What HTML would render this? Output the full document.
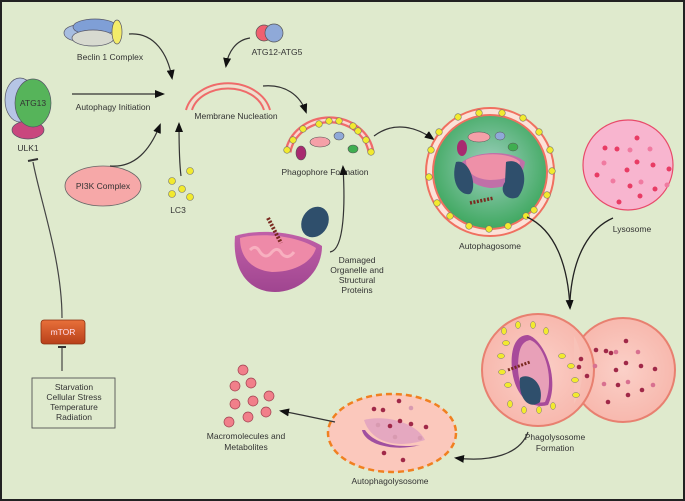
<!DOCTYPE html>
<html><head><meta charset="utf-8"><style>
html,body{margin:0;padding:0;background:#dfeacd}
svg{display:block}
text{font-family:"Liberation Sans",sans-serif;fill:#333;font-size:8.5px}
</style></head><body>
<svg width="685" height="501" viewBox="0 0 685 501" xmlns="http://www.w3.org/2000/svg">
<defs>
<marker id="ar" markerWidth="10" markerHeight="8" refX="8" refY="4" orient="auto" markerUnits="userSpaceOnUse"><path d="M0,0 L10,4 L0,8 z" fill="#111"/></marker>
<radialGradient id="gg" cx="50%" cy="45%" r="55%"><stop offset="0" stop-color="#9fd0c0"/><stop offset="1" stop-color="#3fa860"/></radialGradient>
<radialGradient id="pg" cx="50%" cy="50%" r="55%"><stop offset="0" stop-color="#fbd0c8"/><stop offset="1" stop-color="#f7b6ab"/></radialGradient>
<linearGradient id="mt" x1="0" y1="0" x2="0" y2="1"><stop offset="0" stop-color="#e8703a"/><stop offset="1" stop-color="#b8401a"/></linearGradient>
<linearGradient id="mg" x1="0" y1="0" x2="0" y2="1"><stop offset="0" stop-color="#c060a8"/><stop offset="1" stop-color="#a04590"/></linearGradient>
</defs>
<rect x="1" y="1" width="683" height="499" fill="#dfeacd" stroke="#222" stroke-width="2"/>

<!-- Beclin -->
<ellipse cx="78" cy="33" rx="14" ry="8" fill="#a7bde0" stroke="#556" stroke-width=".7"/>
<ellipse cx="95" cy="27" rx="22" ry="8" fill="#7f9fd6" stroke="#556" stroke-width=".7"/>
<ellipse cx="93" cy="38" rx="21" ry="8" fill="#d8dad0" stroke="#556" stroke-width=".7"/>
<ellipse cx="117" cy="32" rx="5" ry="12" fill="#f3ec6a" stroke="#556" stroke-width=".7"/>
<text x="110" y="60" text-anchor="middle">Beclin 1 Complex</text>
<path d="M129,34 C155,32 168,55 172,78" fill="none" stroke="#333" stroke-width="1.2" marker-end="url(#ar)"/>

<!-- ATG12-ATG5 -->
<circle cx="264" cy="33" r="8" fill="#f06070" stroke="#555" stroke-width=".7"/>
<circle cx="274" cy="33" r="9" fill="#8fa9d8" stroke="#555" stroke-width=".7"/>
<text x="277" y="55" text-anchor="middle">ATG12-ATG5</text>
<path d="M250,38 C236,40 228,52 226,66" fill="none" stroke="#333" stroke-width="1.2" marker-end="url(#ar)"/>

<!-- ULK1 -->
<ellipse cx="20" cy="100" rx="15" ry="22" fill="#b6c5e6" stroke="#556" stroke-width=".7"/>
<ellipse cx="28" cy="130" rx="16" ry="9" fill="#c9477e" stroke="#556" stroke-width=".7"/>
<ellipse cx="33" cy="103" rx="18" ry="24" fill="#56b45a" stroke="#556" stroke-width=".7"/>
<text x="33" y="106" text-anchor="middle" font-size="9">ATG13</text>
<text x="28" y="151" text-anchor="middle">ULK1</text>
<line x1="72" y1="94" x2="163" y2="94" stroke="#333" stroke-width="1.2" marker-end="url(#ar)"/>
<text x="113" y="110" text-anchor="middle">Autophagy Initiation</text>

<!-- Membrane -->
<path d="M186,110 A43,34 0 0 1 270,110" fill="none" stroke="#f06a6a" stroke-width="2"/>
<path d="M189,110 A40,31 0 0 1 267,110" fill="none" stroke="#fbd7d0" stroke-width="1.5"/>
<path d="M192,110 A37,28 0 0 1 264,110" fill="none" stroke="#f06a6a" stroke-width="2"/>
<text x="236" y="119" text-anchor="middle">Membrane Nucleation</text>
<path d="M263,86 C285,84 300,95 306,112" fill="none" stroke="#333" stroke-width="1.2" marker-end="url(#ar)"/>

<!-- PI3K -->
<ellipse cx="103" cy="186" rx="38" ry="20" fill="#f6a8a8" stroke="#666" stroke-width=".8"/>
<text x="103" y="189" text-anchor="middle">PI3K Complex</text>
<path d="M110,166 C135,168 150,150 160,125" fill="none" stroke="#333" stroke-width="1.2" marker-end="url(#ar)"/>

<!-- LC3 -->
<g fill="#f2ea2e" stroke="#776" stroke-width=".6">
<circle cx="190" cy="171" r="3.5"/><circle cx="172" cy="181" r="3.5"/><circle cx="182" cy="189" r="3.5"/><circle cx="172" cy="194" r="3.5"/><circle cx="190" cy="197" r="3.5"/></g>
<text x="178" y="213" text-anchor="middle">LC3</text>
<path d="M181,176 C179,160 179,140 179,124" fill="none" stroke="#333" stroke-width="1.2" marker-end="url(#ar)"/>

<!-- Phagophore -->
<path d="M288,152 A42,38 0 0 1 371,152" fill="none" stroke="#f06a6a" stroke-width="7"/>
<path d="M288,152 A42,38 0 0 1 371,152" fill="none" stroke="#fbd7d0" stroke-width="2.5"/>
<g fill="#f2ea2e" stroke="#776" stroke-width=".6">
<circle cx="287" cy="150" r="3.3"/><circle cx="293" cy="140" r="3.3"/><circle cx="303" cy="129" r="3.3"/><circle cx="319" cy="124" r="3.3"/><circle cx="329" cy="121" r="3.3"/><circle cx="339" cy="121" r="3.3"/><circle cx="353" cy="126" r="3.3"/><circle cx="358" cy="131" r="3.3"/><circle cx="366" cy="140" r="3.3"/><circle cx="371" cy="152" r="3.3"/></g>
<ellipse cx="301" cy="153" rx="5" ry="7" fill="#a82a70" stroke="#555" stroke-width=".6"/>
<ellipse cx="320" cy="142" rx="10" ry="5" fill="#f5a0a8" stroke="#555" stroke-width=".6"/>
<ellipse cx="339" cy="136" rx="5" ry="4" fill="#8fa9d8" stroke="#555" stroke-width=".6"/>
<ellipse cx="353" cy="149" rx="5" ry="4" fill="#3fae50" stroke="#555" stroke-width=".6"/>
<text x="325" y="175" text-anchor="middle">Phagophore Formation</text>
<path d="M374,136 C395,120 418,128 433,139" fill="none" stroke="#333" stroke-width="1.2" marker-end="url(#ar)"/>

<!-- Damaged organelle -->
<path d="M235,236 C260,228 300,232 322,246 C322,272 300,292 275,292 C250,292 232,272 235,236 z" fill="url(#mg)"/>
<path d="M240,238 C262,232 298,236 316,248 C312,262 295,272 272,272 C252,270 240,258 240,238 z" fill="#ee8aa8"/>
<path d="M250,250 q6,-6 10,2 q6,8 12,0 q6,-6 10,2 q6,6 12,-2" fill="none" stroke="#f8b0c0" stroke-width="3"/>
<ellipse cx="315" cy="222" rx="13" ry="16" transform="rotate(30 315 222)" fill="#2f4f6c"/>
<path d="M268,218 L281,243" stroke="#7a2a20" stroke-width="4" stroke-dasharray="2 1.5"/>
<text text-anchor="middle" font-size="8.5"><tspan x="357" y="263">Damaged</tspan><tspan x="357" y="273">Organelle and</tspan><tspan x="357" y="283">Structural</tspan><tspan x="357" y="293">Proteins</tspan></text>
<path d="M330,252 C345,250 345,200 343,167" fill="none" stroke="#333" stroke-width="1.2" marker-end="url(#ar)"/>

<!-- Autophagosome -->
<circle cx="490" cy="172" r="64" fill="#fbe2d8" stroke="#f07060" stroke-width="2"/>
<circle cx="490" cy="172" r="57" fill="url(#gg)" stroke="#f07060" stroke-width="2"/>
<path d="M462,162 C478,150 512,150 525,162 C522,182 505,188 490,188 C472,186 462,176 462,162 z" fill="#c070a8"/>
<path d="M466,160 C480,152 510,152 520,162 C518,176 505,180 490,180 C474,179 466,172 466,160 z" fill="#ee90a8"/>
<path d="M456,162 C470,158 478,188 470,194 C460,196 450,182 456,162 z" fill="#2f4f6c"/>
<path d="M506,162 C524,156 530,182 518,197 C508,202 498,192 505,182 z" fill="#2f4f6c"/>
<ellipse cx="462" cy="148" rx="5" ry="8" fill="#a82a70"/>
<ellipse cx="479" cy="137" rx="11" ry="5" fill="#f5a0a8" stroke="#555" stroke-width=".5"/>
<ellipse cx="500" cy="136" rx="5" ry="4" fill="#8fa9d8" stroke="#555" stroke-width=".5"/>
<ellipse cx="513" cy="147" rx="5" ry="4" fill="#3fae50" stroke="#555" stroke-width=".5"/>
<path d="M470,203 l24,-5" stroke="#7a2a20" stroke-width="3.5" stroke-dasharray="2 1.5"/>
<g fill="#f2ea2e" stroke="#776" stroke-width=".6">
<circle cx="458" cy="117" r="3.3"/><circle cx="479" cy="113" r="3.3"/><circle cx="502" cy="113" r="3.3"/><circle cx="523" cy="118" r="3.3"/><circle cx="539" cy="132" r="3.3"/><circle cx="550" cy="150" r="3.3"/><circle cx="552" cy="171" r="3.3"/><circle cx="547" cy="195" r="3.3"/><circle cx="534" cy="210" r="3.3"/><circle cx="526" cy="216" r="3.3"/><circle cx="508" cy="226" r="3.3"/><circle cx="489" cy="229" r="3.3"/><circle cx="469" cy="226" r="3.3"/><circle cx="450" cy="216" r="3.3"/><circle cx="437" cy="203" r="3.3"/><circle cx="429" cy="177" r="3.3"/><circle cx="431" cy="150" r="3.3"/><circle cx="439" cy="132" r="3.3"/></g>
<text x="490" y="249" text-anchor="middle">Autophagosome</text>

<!-- Lysosome -->
<circle cx="628" cy="165" r="45" fill="#f8b5cf" stroke="#e84a6a" stroke-width="1.2"/>
<g fill="#e83c64">
<circle cx="605" cy="148" r="2.5"/><circle cx="617" cy="149" r="2.5"/><circle cx="637" cy="138" r="2.5"/><circle cx="637" cy="162" r="2.5"/><circle cx="627" cy="170" r="2.5"/><circle cx="653" cy="165" r="2.5"/><circle cx="669" cy="169" r="2.5"/><circle cx="597" cy="175" r="2.5"/><circle cx="630" cy="186" r="2.5"/><circle cx="640" cy="196" r="2.5"/><circle cx="655" cy="189" r="2.5"/><circle cx="619" cy="202" r="2.5"/></g>
<g fill="#f07aa0"><circle cx="630" cy="150" r="2.5"/><circle cx="650" cy="149" r="2.5"/><circle cx="604" cy="163" r="2.5"/><circle cx="613" cy="181" r="2.5"/><circle cx="641" cy="182" r="2.5"/><circle cx="667" cy="185" r="2.5"/></g>
<text x="632" y="232" text-anchor="middle">Lysosome</text>

<!-- merging curves -->
<path d="M527,217 C555,230 568,265 570,308" fill="none" stroke="#222" stroke-width="1.3" marker-end="url(#ar)"/>
<path d="M613,218 C590,228 573,255 570,300" fill="none" stroke="#222" stroke-width="1.3"/>

<!-- Phagolysosome -->
<circle cx="623" cy="370" r="52" fill="url(#pg)" stroke="#e88070" stroke-width="2"/>
<circle cx="538" cy="370" r="56" fill="url(#pg)" stroke="#e88070" stroke-width="2"/>
<path d="M574,336 C585,355 585,385 574,404" fill="#f8c2b8"/>
<path d="M528,335 C545,340 560,380 548,405 C530,410 515,395 512,370 C510,350 515,335 528,335 z" fill="#a84a9a"/>
<path d="M530,340 C545,345 555,380 545,402 C533,405 520,395 518,370 C518,352 520,342 530,340 z" fill="#e8a0b8"/>
<path d="M520,378 C528,372 545,382 540,402 C530,410 518,400 520,378 z" fill="#2f4f6c"/>
<path d="M508,370 l22,-8" stroke="#7a2a20" stroke-width="3" stroke-dasharray="2 1.5"/>
<g fill="#f2ea2e" stroke="#776" stroke-width=".5">
<ellipse cx="504" cy="331" rx="2.5" ry="3.5"/><ellipse cx="518" cy="325" rx="2.5" ry="3.5"/><ellipse cx="533" cy="325" rx="2.5" ry="3.5"/><ellipse cx="546" cy="331" rx="2.5" ry="3.5"/><ellipse cx="506" cy="343" rx="3.5" ry="2.5"/><ellipse cx="501" cy="356" rx="3.5" ry="2.5"/><ellipse cx="562" cy="356" rx="3.5" ry="2.5"/><ellipse cx="571" cy="366" rx="3.5" ry="2.5"/><ellipse cx="575" cy="380" rx="3.5" ry="2.5"/><ellipse cx="576" cy="395" rx="3.5" ry="2.5"/><ellipse cx="508" cy="385" rx="3.5" ry="2.5"/><ellipse cx="510" cy="404" rx="2.5" ry="3.5"/><ellipse cx="524" cy="410" rx="2.5" ry="3.5"/><ellipse cx="539" cy="410" rx="2.5" ry="3.5"/><ellipse cx="553" cy="406" rx="2.5" ry="3.5"/><ellipse cx="502" cy="372" rx="3.5" ry="2.5"/></g>
<g fill="#a02848">
<circle cx="626" cy="341" r="2.3"/><circle cx="596" cy="350" r="2.3"/><circle cx="606" cy="351" r="2.3"/><circle cx="581" cy="359" r="2.3"/><circle cx="579" cy="367" r="2.3"/><circle cx="587" cy="376" r="2.3"/><circle cx="616" cy="370" r="2.3"/><circle cx="626" cy="363" r="2.3"/><circle cx="641" cy="366" r="2.3"/><circle cx="655" cy="369" r="2.3"/><circle cx="618" cy="385" r="2.3"/><circle cx="628" cy="395" r="2.3"/><circle cx="642" cy="390" r="2.3"/><circle cx="608" cy="402" r="2.3"/><circle cx="611" cy="353" r="2.3"/></g>
<g fill="#d87090"><circle cx="616" cy="352" r="2.3"/><circle cx="638" cy="352" r="2.3"/><circle cx="595" cy="366" r="2.3"/><circle cx="604" cy="384" r="2.3"/><circle cx="628" cy="382" r="2.3"/><circle cx="653" cy="385" r="2.3"/></g>
<text x="555" y="440" text-anchor="middle">Phagolysosome</text>
<text x="555" y="451" text-anchor="middle">Formation</text>
<path d="M528,432 C520,455 490,462 456,458" fill="none" stroke="#333" stroke-width="1.2" marker-end="url(#ar)"/>

<!-- Autophagolysosome -->
<ellipse cx="392" cy="433" rx="64" ry="39" fill="#fbc8bc" stroke="#f08020" stroke-width="2.5" stroke-dasharray="6 4"/>
<path d="M362,430 C365,445 395,452 420,445 C400,448 375,445 365,430 z" fill="#a050a0"/>
<path d="M364,420 C380,415 415,420 425,440 C400,448 372,445 364,420 z" fill="#e0a0c0" opacity=".8"/>
<g fill="#a02848"><circle cx="374" cy="409" r="2.3"/><circle cx="383" cy="410" r="2.3"/><circle cx="399" cy="401" r="2.3"/><circle cx="400" cy="421" r="2.3"/><circle cx="411" cy="424" r="2.3"/><circle cx="426" cy="427" r="2.3"/><circle cx="390" cy="426" r="2.3"/><circle cx="384" cy="453" r="2.3"/><circle cx="403" cy="460" r="2.3"/></g>
<g fill="#d89ab0"><circle cx="411" cy="408" r="2.3"/><circle cx="378" cy="425" r="2.3"/><circle cx="395" cy="437" r="2.3"/><circle cx="420" cy="438" r="2.3"/></g>
<text x="390" y="484" text-anchor="middle">Autophagolysosome</text>
<path d="M335,422 C315,418 298,414 281,411" fill="none" stroke="#333" stroke-width="1.2" marker-end="url(#ar)"/>

<!-- Macromolecules -->
<g fill="#f17f8a" stroke="#a04050" stroke-width=".7">
<circle cx="243" cy="370" r="5"/><circle cx="235" cy="386" r="5"/><circle cx="251" cy="383" r="5"/><circle cx="235" cy="404" r="5"/><circle cx="253" cy="401" r="5"/><circle cx="269" cy="396" r="5"/><circle cx="229" cy="422" r="5"/><circle cx="248" cy="417" r="5"/><circle cx="266" cy="412" r="5"/></g>
<text x="246" y="439" text-anchor="middle">Macromolecules and</text>
<text x="246" y="450" text-anchor="middle">Metabolites</text>

<!-- mTOR & stress -->
<path d="M62,318 C62,260 40,200 33,162" fill="none" stroke="#444" stroke-width="1.2"/>
<line x1="28" y1="161" x2="38" y2="159" stroke="#333" stroke-width="2"/>
<rect x="41" y="320" width="44" height="24" rx="3" fill="url(#mt)" stroke="#8a3010" stroke-width=".8"/>
<text x="63" y="335" text-anchor="middle" style="fill:#fde">mTOR</text>
<line x1="62" y1="347" x2="62" y2="371" stroke="#444" stroke-width="1.2"/>
<line x1="58" y1="347" x2="66" y2="347" stroke="#333" stroke-width="2"/>
<rect x="32" y="378" width="83" height="50" fill="none" stroke="#555" stroke-width=".9"/>
<text text-anchor="middle"><tspan x="74" y="390">Starvation</tspan><tspan x="74" y="400">Cellular Stress</tspan><tspan x="74" y="410">Temperature</tspan><tspan x="74" y="420">Radiation</tspan></text>
</svg>
</body></html>
